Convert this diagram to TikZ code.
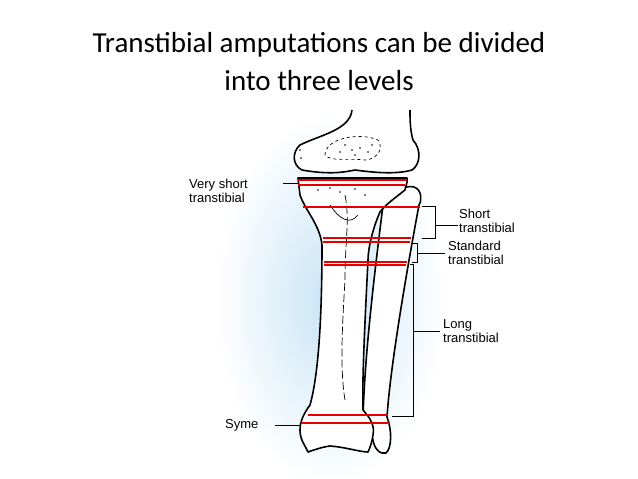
\documentclass[tikz,border=0pt]{standalone}
\usepackage{fontspec}
\setmainfont{Liberation Sans}
\newfontfamily\titlefont{Carlito}
\definecolor{sky}{RGB}{200,228,245}
\begin{document}
\begin{tikzpicture}[x=1pt,y=-1pt,
  bone/.style={draw=black,line width=1.6pt,fill=white,line join=round},
  cut/.style={draw=red!90!black,line width=1.1pt},
  lead/.style={draw=black,line width=0.8pt},
  lbl/.style={font=\fontsize{13}{13.5}\selectfont,align=left,anchor=west,inner sep=0pt},
  thin/.style={draw=black,line width=0.7pt}]
\useasboundingbox (0,0) rectangle (638,479);
\fill[white] (0,0) rectangle (638,479);
\shade[inner color=sky,outer color=white] (330,300) ellipse (115 and 185);
\node[font=\titlefont\fontsize{29}{38}\selectfont,align=center] (title) at (319,62) {Transtibial amputations can be divided\\into three levels};
% femur
\draw[bone] (352,110) .. controls (350,130) and (320,135) .. (300,145) .. controls (292,152) and (292,165) .. (302,170)
  .. controls (330,175) and (345,172) .. (355,170) .. controls (370,172) and (395,175) .. (412,170)
  .. controls (420,165) and (422,150) .. (413,140) .. controls (410,130) and (410,118) .. (410,110);
\draw[thin,dashed] (325,155) .. controls (325,138) and (360,132) .. (378,140) .. controls (385,150) and (375,160) .. (365,160) .. controls (350,158) and (330,162) .. (325,155);
\foreach \p in {(345,145),(352,150),(360,148),(355,155),(368,152),(340,152),(372,145),(300,150),(301,158)} \fill \p circle (0.9);
% fibula
\draw[bone] (383,205) .. controls (395,190) and (405,185) .. (414,187) .. controls (422,190) and (422,200) .. (419,205)
  .. controls (405,280) and (390,370) .. (387,417) .. controls (392,430) and (392,448) .. (386,453)
  .. controls (380,455) and (374,448) .. (373,440) .. controls (370,430) and (365,425) .. (363,417)
  .. controls (365,350) and (375,270) .. (383,205) -- cycle;
% tibia
\draw[bone] (298,178) -- (407,178) .. controls (408,183) and (405,187) .. (405,190)
  .. controls (395,198) and (385,205) .. (380,212) .. controls (372,230) and (368,250) .. (368,260)
  .. controls (365,320) and (362,380) .. (363,410) .. controls (370,418) and (375,425) .. (373,435)
  .. controls (372,442) and (370,448) .. (368,452) .. controls (360,452) and (345,447) .. (330,446)
  .. controls (322,447) and (314,450) .. (308,452) .. controls (305,445) and (300,440) .. (300,430)
  .. controls (300,420) and (305,412) .. (310,405) .. controls (320,370) and (322,300) .. (322,245)
  .. controls (320,225) and (305,210) .. (300,195) -- cycle;
\draw[thin,dash pattern=on 8pt off 3pt] (345,195) .. controls (350,220) and (345,240) .. (345,280) .. controls (342,330) and (340,370) .. (345,400);
\draw[thin] (330,205) .. controls (340,220) and (350,225) .. (358,215);
\foreach \p in {(310,185),(318,190),(330,188),(340,192),(355,189),(365,195)} \fill \p circle (0.9);
% cuts
\draw[cut] (298,180) -- (407,180); \draw[cut] (298,185) -- (405,185);
\draw[cut] (303,207) -- (420,207);
\draw[cut] (323,238) -- (411,238); \draw[cut] (323,242) -- (410,242);
\draw[cut] (324,262) -- (407,262); \draw[cut] (324,265) -- (406,265);
\draw[cut] (308,415) -- (388,415); \draw[cut] (301,423) -- (390,423);
% labels
\node[lbl] (vs) at (189,191) {Very short\\transtibial};
\draw[lead] (283,183) -- (298,183);
\node[lbl] (sy) at (225,425) {Syme};
\draw[lead] (275,425) -- (300,425);
\draw[lead] (422,206) -- (435,206) -- (435,238) -- (422,238);
\draw[lead] (435,225) -- (458,225);
\node[lbl] (st) at (459,221) {Short\\transtibial};
\draw[lead] (412,243) -- (417,243) -- (417,262) -- (412,262);
\draw[lead] (417,253) -- (445,253);
\node[lbl] (sd) at (448,253) {Standard\\transtibial};
\draw[lead] (410,264) -- (413,264) -- (413,416) -- (392,416);
\draw[lead] (413,331) -- (440,331);
\node[lbl] (lg) at (443,331) {Long\\transtibial};
\end{tikzpicture}
\end{document}
